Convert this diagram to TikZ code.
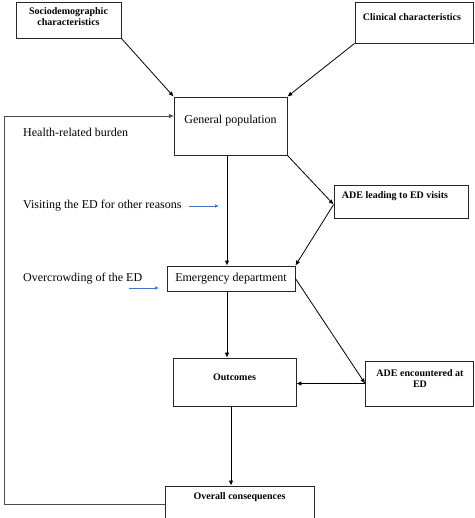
\documentclass[tikz,border=0pt]{standalone}
\usepackage{fontspec}
\setmainfont{Liberation Serif}
\usetikzlibrary{arrows.meta}
\begin{document}
\begin{tikzpicture}[x=1pt,y=-1pt,
  box/.style={draw=black!85,line width=0.8pt,inner sep=0pt,minimum width=#1},
  bt/.style={font=\bfseries\fontsize{10}{11.5}\selectfont,align=center,inner sep=0pt},
  rt/.style={font=\fontsize{12}{14}\selectfont,inner sep=0pt},
  arr/.style={line width=0.8pt,-{Latex[length=5pt,width=4.5pt]}},
  barr/.style={draw={rgb,255:red,68;green,114;blue,196},line width=0.7pt,-{Latex[length=4pt,width=3.5pt]}},
  fb/.style={draw=black!70,line width=0.8pt,-{Latex[length=5pt,width=4.5pt]}}
]
\useasboundingbox (0,0) rectangle (474,518);
% boxes
\node[box=105pt,minimum height=36pt] (socio) at (68.5,20) {};
\node[bt] (sociot) at (68.5,16.5) {Sociodemographic\\characteristics};
\node[box=118pt,minimum height=41pt] (clin) at (414,22.5) {};
\node[bt] (clint) at (412,17) {Clinical characteristics};
\node[box=113pt,minimum height=58pt] (gp) at (230.5,126) {};
\node[rt] (gpt) at (230.5,121) {General population};
\node[box=134pt,minimum height=33pt] (ade1) at (401,201.5) {};
\node[bt] (ade1t) at (395,196) {ADE leading to ED visits};
\node[box=128pt,minimum height=25pt,font=\fontsize{12}{14}\selectfont] (ed) at (231,278.5) {Emergency department};
\node[box=123pt,minimum height=48pt] (out) at (234.5,382) {};
\node[bt] (outt) at (234.5,377) {Outcomes};
\node[box=108pt,minimum height=45pt] (ade2) at (419.5,383.5) {};
\node[bt] (ade2t) at (420,378.5) {ADE encountered at\\ED};
\node[box=149pt,minimum height=36pt] (ov) at (239.5,504) {};
\node[bt] (ovt) at (239.5,497) {Overall consequences};
% side texts
\node[rt,anchor=west] (hrb) at (23,132) {Health-related burden};
\node[rt,anchor=west] (vis) at (23,206) {Visiting the ED for other reasons};
\node[rt,anchor=west] (ovc) at (23,279) {Overcrowding of the ED};
% helper coordinates
\coordinate (c1) at (227,0);
\coordinate (c2) at (231,0);
\coordinate (gpin) at (174,116);
\coordinate (fbx) at (4,0);
\coordinate (b1s) at (189,206);
\coordinate (b1e) at (219,206);
\coordinate (b2s) at (129,288);
\coordinate (b2e) at (159,288);
% connectors
\draw[arr] (socio.south east) -- (gp.north west);
\draw[arr] (clin.south west) -- (gp.north east);
\draw[arr] (gp.south -| c1) -- (ed.north -| c1);
\draw[arr] (gp.south east) -- ([yshift=-3pt]ade1.west);
\draw[arr] ([yshift=-3pt]ade1.west) -- (ed.north east);
\draw[arr] (ed.south -| c1) -- (out.north -| c1);
\draw[arr] (ed.east) -- (ade2.west);
\draw[arr] (ade2.west) -- (ade2.west -| out.east);
\draw[arr] (out.south -| c2) -- (ov.north -| c2);
\draw[fb] (ov.west) -- (ov.west -| fbx) -- (gpin -| fbx) -- (gpin);
\draw[barr] (b1s) -- (b1e);
\draw[barr] (b2s) -- (b2e);
\end{tikzpicture}
\end{document}
